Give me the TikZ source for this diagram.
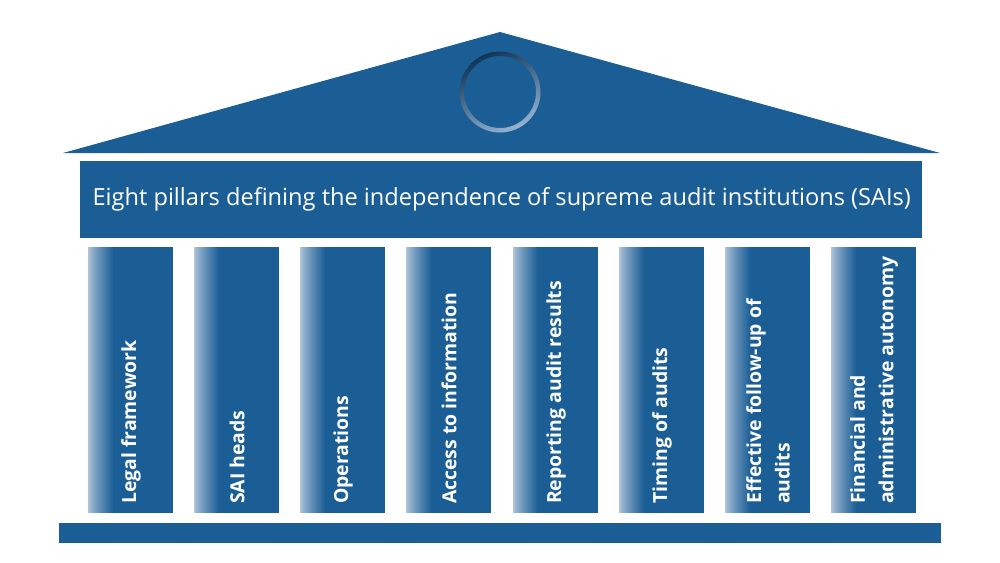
\documentclass[tikz,border=0pt]{standalone}
\usepackage{fontspec}
\setmainfont{Open Sans}
\begin{document}
\begin{tikzpicture}[x=1pt,y=-1pt]
\definecolor{sai}{RGB}{27,94,150}
\definecolor{sailight}{RGB}{178,198,218}
\definecolor{saidark}{RGB}{14,52,88}
\definecolor{sairing}{RGB}{150,180,210}
\tikzset{
  blk/.style={fill=sai, draw=none},
  ptext/.style={rotate=90, anchor=west, text=white, font=\bfseries\fontsize{19.4}{28.5}\selectfont, align=left, inner sep=0pt},
}
\useasboundingbox (0,0) rectangle (1000,562);
% roof
\fill[sai] (63,153) -- (500,32) -- (940,153) -- cycle;
% circle ring
\shade[even odd rule, top color=saidark, bottom color=sairing, shading angle=25]
  (500,92) circle (40.5) (500,92) circle (36);
% banner
\node[blk, minimum width=842, minimum height=77, inner sep=0pt, anchor=north west] (banner) at (80,161) {};
\node[text=white, font=\fontsize{23.6}{28}\selectfont] (btext) at ([xshift=0.5pt]banner.center) {Eight pillars defining the independence of supreme audit institutions (SAIs)};
% pillars
\foreach \i/\x/\t in {1/88/{Legal framework},2/194/{SAI heads},3/300/{Operations},4/406/{Access to information},5/513/{Reporting audit results},6/619/{Timing of audits},7/725/{Effective follow-up of\\audits},8/831/{Financial and\\administrative autonomy}} {
  \fill[sai] (\x,247) rectangle ++(85,266);
  \foreach \k in {0,...,24} {
    \pgfmathtruncatemacro{\p}{100*(\k/25)^0.8}
    \fill[sai!\p!sailight] (\x+\k,247) rectangle ++(1.05,266);
  }
  \node[ptext] (p\i) at (\x+43,504) {\t};
}
% base
\node[blk, minimum width=882, minimum height=20, inner sep=0pt, anchor=north west] (base) at (59,523) {};
\end{tikzpicture}
\end{document}
